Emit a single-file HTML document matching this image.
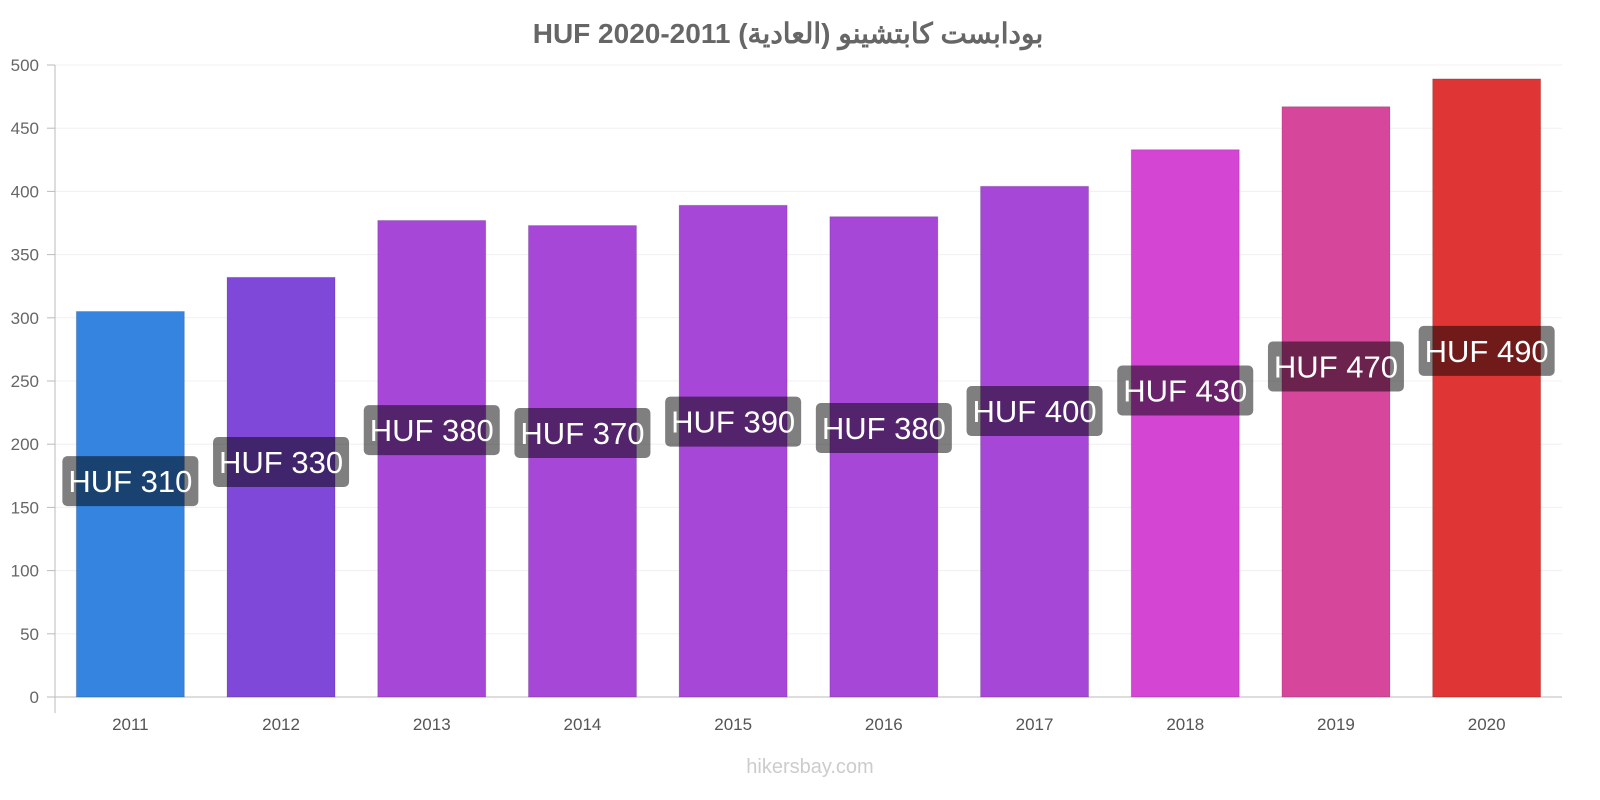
<!DOCTYPE html>
<html><head><meta charset="utf-8"><style>
body{margin:0;background:#fff;}
svg{display:block;font-family:"Liberation Sans","Noto Sans CJK SC",sans-serif;}
</style></head><body>
<svg id="chart" width="1600" height="800">
<text x="788" y="43" text-anchor="middle" direction="rtl" unicode-bidi="embed" font-size="28" font-weight="bold" fill="#666">بودابست كابتشينو (العادية) HUF 2020-2011</text>
<g id="grid"></g><g id="bars"></g><g id="labels"></g>
<text x="810" y="773" text-anchor="middle" font-size="20" fill="#ccc">hikersbay.com</text>
</svg>
<script>
const categories=["2011","2012","2013","2014","2015","2016","2017","2018","2019","2020"];
const values=[305,332,377,373,389,380,404,433,467,489];
const valueLabels=["HUF 310","HUF 330","HUF 380","HUF 370","HUF 390","HUF 380","HUF 400","HUF 430","HUF 470","HUF 490"];
const yTicks=[0,50,100,150,200,250,300,350,400,450,500];
const colors=["#3584e0","#8048d8","#a647d8","#a647d8","#a647d8","#a647d8","#a647d8","#d445d4","#d6479c","#e03535"];
const NS="http://www.w3.org/2000/svg";
const x0=55,x1=1562,yBase=697,yTop=65;
const y=v=>yBase-(v/500)*(yBase-yTop);
const band=(x1-x0)/categories.length;
const xc=i=>x0+band*(i+0.5);
function mk(t,a,p){const e=document.createElementNS(NS,t);for(const k in a)e.setAttribute(k,a[k]);p.appendChild(e);return e;}
const grid=document.getElementById('grid'),bars=document.getElementById('bars'),labels=document.getElementById('labels');
yTicks.forEach(t=>{
 const l=mk('line',{x1:x0,x2:x1,y1:y(t),y2:y(t),stroke:t===0?'#bbb':'#f0f0f0','stroke-width':1},grid);
 
 
 const tk=mk('line',{x1:x0-8,x2:x0,y1:y(t),y2:y(t),stroke:'#bbb'},grid);
 
 
 const tx=mk('text',{x:x0-16,y:y(t)+6,'text-anchor':'end','font-size':17,fill:'#666'},grid);
 tx.textContent=t;
 
 
});
const ax=mk('line',{x1:x0,x2:x0,y1:yTop,y2:yBase+16,stroke:'#bbb'},grid);


categories.forEach((c,i)=>{
 const bw=108,cx=xc(i);
 const r=mk('rect',{x:cx-bw/2,y:y(values[i]),width:bw,height:yBase-y(values[i]),fill:colors[i],stroke:'rgba(0,0,0,0.15)'},bars);
 
 
 const tx=mk('text',{x:cx,y:yBase+33,'text-anchor':'middle','font-size':17,fill:'#555'},grid);
 tx.textContent=c;
 
 
 const ly=yBase-(yBase-y(values[i]))*0.56;
 const g=mk('g',{},labels);
 
 
 mk('rect',{x:cx-68,y:ly-25,width:136,height:50,rx:5,fill:'rgba(0,0,0,0.5)'},g);
 const lt=mk('text',{x:cx,y:ly+11,'text-anchor':'middle','font-size':31,fill:'#fff'},g);
 lt.textContent=valueLabels[i];
});
</script>
</body></html>
